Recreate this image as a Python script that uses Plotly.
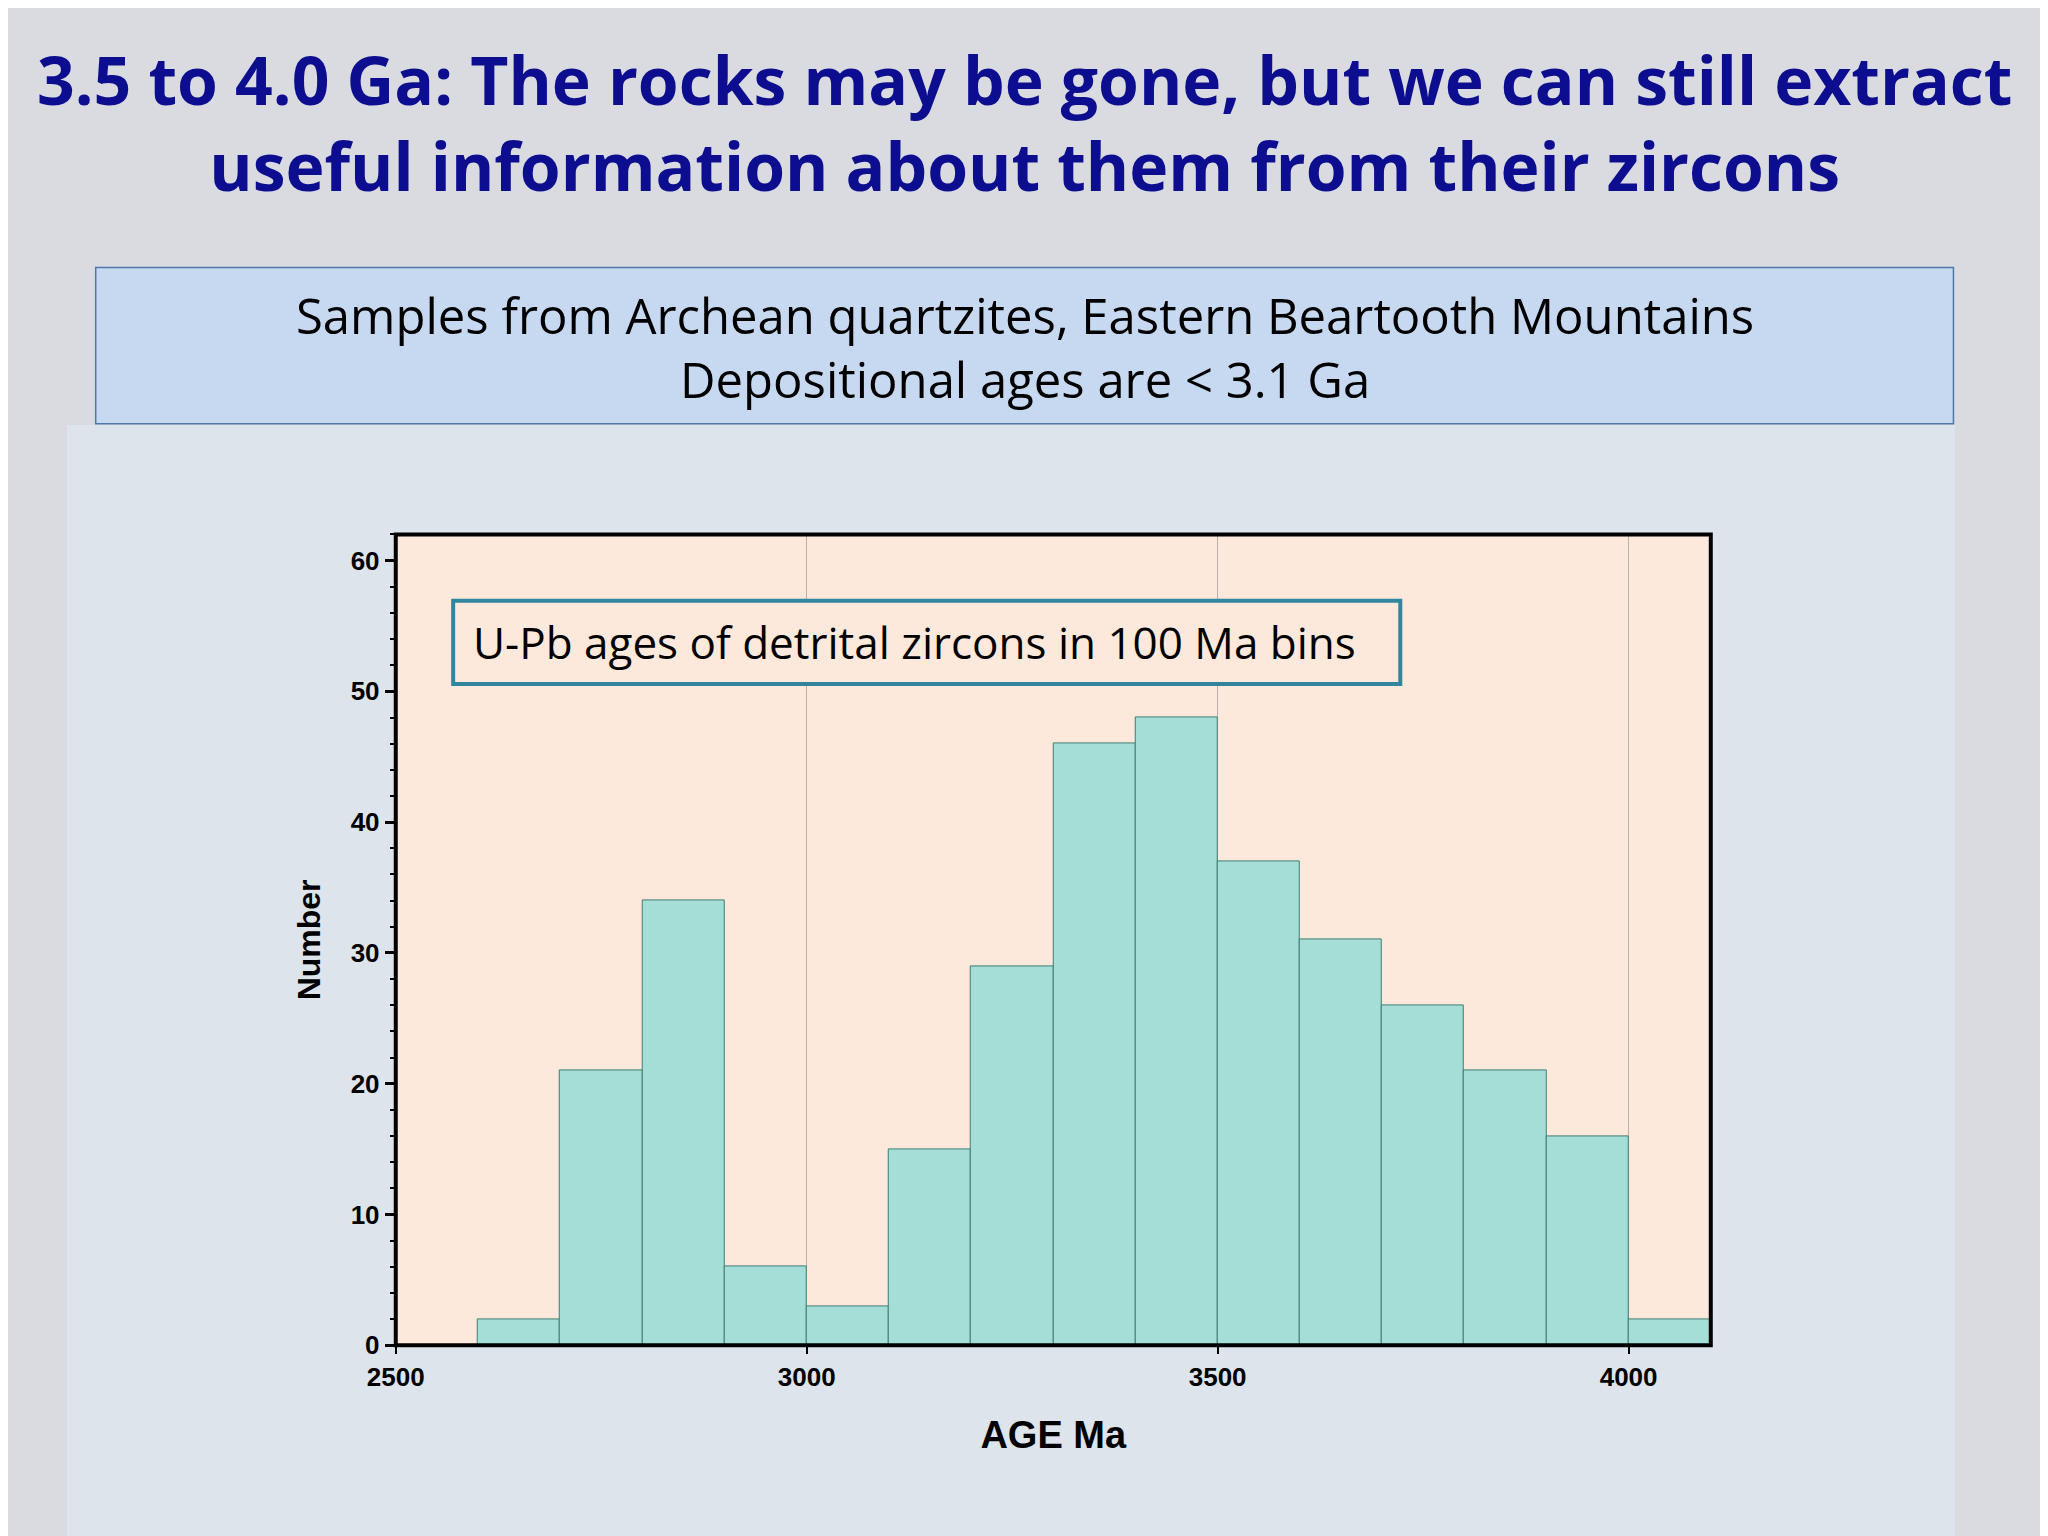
import plotly.graph_objects as go

bin_starts = [2600, 2700, 2800, 2900, 3000, 3100, 3200, 3300, 3400, 3500, 3600, 3700, 3800, 3900, 4000]
counts = [2, 21, 34, 6, 3, 15, 29, 46, 48, 37, 31, 26, 21, 16, 2]
x_ticks = [2500, 3000, 3500, 4000]
y_ticks = [0, 10, 20, 30, 40, 50, 60]

W, H = 2048, 1536
# reference pixel coords (1568x1176 view) -> paper, with a small correction for page offset
def px(x):
    return ((x - 27) / 0.987) / 1568
def py(y):
    return 1 - ((y - 4.6) / 0.9936) / 1176

fig = go.Figure(go.Bar(
    x=[b + 50 for b in bin_starts], y=counts, width=100,
    marker=dict(color="#a5ded6", line=dict(color="#3d7d75", width=1)),
))

shapes = [
    dict(type="rect", xref="paper", yref="paper", x0=px(50), x1=px(1497), y0=-0.01, y1=py(325),
         fillcolor="#dde4ec", line_width=0, layer="below"),
    dict(type="rect", xref="paper", yref="paper", x0=px(72), x1=px(1496), y0=py(324), y1=py(204),
         fillcolor="#c6d9f1", line=dict(color="#4f78a8", width=1.5), layer="below"),
    dict(type="rect", xref="paper", yref="paper", x0=px(302), x1=px(1310), y0=py(1032), y1=py(409),
         fillcolor="#fde9db", line_width=0, layer="below"),
    dict(type="rect", xref="paper", yref="paper", x0=px(302), x1=px(1310), y0=py(1032), y1=py(409),
         fillcolor="rgba(0,0,0,0)", line=dict(color="black", width=4)),
    dict(type="rect", xref="paper", yref="paper", x0=px(346), x1=px(1072), y0=py(524), y1=py(460),
         fillcolor="#fde9db", line=dict(color="#31859c", width=4)),
]

annotations = [
    dict(text="<b>3.5 to 4.0 Ga: The rocks may be gone, but we can still extract<br>useful information about them from their zircons</b>",
         xref="paper", yref="paper", x=px(784), y=py(92), xanchor="center", yanchor="middle", showarrow=False,
         font=dict(family="Open Sans", size=66, color="#0d0d8f")),
    dict(text="Samples from Archean quartzites, Eastern Beartooth Mountains<br>Depositional ages are < 3.1 Ga",
         xref="paper", yref="paper", x=px(784), y=py(265), xanchor="center", yanchor="middle", showarrow=False,
         font=dict(family="Open Sans", size=49, color="black"), align="center"),
    dict(text="U-Pb ages of detrital zircons in 100 Ma bins",
         xref="paper", yref="paper", x=px(360), y=py(492), xanchor="left", yanchor="middle", showarrow=False,
         font=dict(family="Open Sans", size=44, color="black")),
]

fig.update_layout(
    width=W, height=H, margin=dict(l=0, r=0, t=0, b=0),
    paper_bgcolor="#d9dbe0", plot_bgcolor="rgba(0,0,0,0)",
    shapes=shapes, annotations=annotations, showlegend=False, bargap=0,
    xaxis=dict(domain=[px(302), px(1310)], range=[2500, 4100], tickvals=x_ticks,
               showgrid=True, gridcolor="#b8b0aa", gridwidth=1, zeroline=False,
               ticks="outside", ticklen=8, tickwidth=2, tickcolor="black",
               tickfont=dict(family="Liberation Sans", size=26, color="black", weight="bold"),
               title=dict(text="<b>AGE Ma</b>", font=dict(family="Liberation Sans", size=38, color="black"), standoff=30)),
    yaxis=dict(domain=[py(1032), py(409)], range=[0, 62], tickvals=y_ticks,
               showgrid=False, zeroline=False,
               ticks="outside", ticklen=10, tickwidth=3, tickcolor="black",
               minor=dict(dtick=2, ticks="outside", ticklen=5, tickwidth=2, tickcolor="black"),
               tickfont=dict(family="Liberation Sans", size=26, color="black", weight="bold"),
               title=dict(text="<b>Number</b>", font=dict(family="Liberation Sans", size=32, color="black"), standoff=20)),
)

fig.write_html("out.html")
